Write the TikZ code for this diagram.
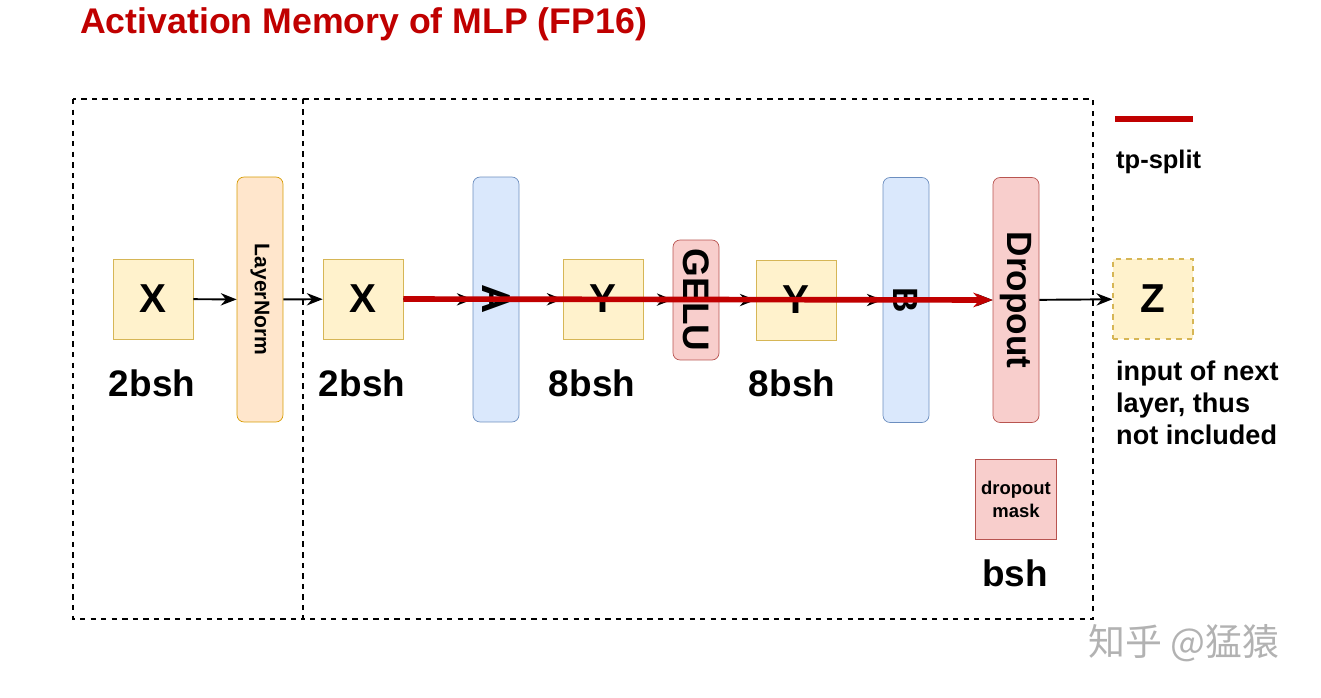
\documentclass[tikz,border=0pt]{standalone}
\usepackage{fontspec}
\setmainfont{Liberation Sans}
\newfontfamily\cjk{Noto Sans CJK SC}
\usetikzlibrary{positioning}
\usetikzlibrary{arrows.meta}
\definecolor{tpred}{HTML}{C00000}
\definecolor{yfill}{HTML}{FFF2CC}
\definecolor{ydraw}{HTML}{D6B656}
\definecolor{ofill}{HTML}{FFE6CC}
\definecolor{odraw}{HTML}{D79B00}
\definecolor{bfill}{HTML}{DAE8FC}
\definecolor{bdraw}{HTML}{6C8EBF}
\definecolor{rfill}{HTML}{F8CECC}
\definecolor{rdraw}{HTML}{B85450}
\tikzset{
    tensor/.style={draw=ydraw, fill=yfill, minimum width=1.6cm, minimum height=1.6cm,
        font=\fontsize{23}{26}\selectfont\bfseries},
    layer/.style={rounded corners=4pt, minimum width=0.92cm, minimum height=4.9cm},
    size/.style={font=\fontsize{21}{24}\selectfont\bfseries},
    flow/.style={-{Stealth[length=9pt, width=7pt]}, line width=1.1pt},
}
\begin{document}
\begin{tikzpicture}[x={(0.02cm,0)}, y={(0,-0.02cm)}]
    \useasboundingbox (0,0) rectangle (1321,697);
    \node[anchor=west, text=tpred, font=\fontsize{20.3}{23}\selectfont\bfseries] (title) at (74,24) {Activation Memory of MLP (FP16)};
    % dashed frames
    \draw[dashed, line width=1.1pt] (73,99) rectangle (303,619);
    \draw[dashed, line width=1.1pt] (303,99) rectangle (1093,619);
    % legend
    \coordinate (lg1) at (1115,119);
    \coordinate (lg2) at (1193,119);
    \draw[tpred, line width=3pt] (lg1) -- (lg2);
    \node[anchor=west, font=\fontsize{14.5}{16}\selectfont\bfseries] (tplabel) at (1110,162) {tp-split};
    % blocks
    \node[tensor] (x1) at (153,299) {X};
    \node[size] at (152,383) {2bsh};
    \node[layer, draw=odraw, fill=ofill] (ln) at (260,299.5) {};
    \node[rotate=-90, font=\fontsize{12}{14}\selectfont\bfseries] at (ln) {LayerNorm};
    \node[tensor] (x2) at (363,299) {X};
    \node[size] at (362,383) {2bsh};
    \node[layer, draw=bdraw, fill=bfill] (a) at (496,299.5) {};
    \node[rotate=-90, font=\fontsize{23}{26}\selectfont\bfseries] at (a) {A};
    \node[tensor] (y1) at (603,299) {Y};
    \node[size] at (592,383) {8bsh};
    \node[layer, draw=rdraw, fill=rfill, minimum height=2.4cm] (gelu) at (696,300) {};
    \node[rotate=-90, font=\fontsize{21}{24}\selectfont\bfseries] at (gelu) {GELU};
    \node[tensor] (y2) at (796,300) {Y};
    \node[size] at (792,383) {8bsh};
    \node[layer, draw=bdraw, fill=bfill] (b) at (906,300) {};
    \node[rotate=-90, font=\fontsize{20}{24}\selectfont\bfseries] at (b) {B};
    \node[layer, draw=rdraw, fill=rfill] (drop) at (1016,300) {};
    \node[rotate=-90, font=\fontsize{20}{24}\selectfont\bfseries] at (drop) {Dropout};
    \node[tensor, dashed, thick] (z) at (1153,299) {Z};
    \node[anchor=north west, align=left, font=\fontsize{15.4}{18}\selectfont\bfseries] (note) at (1110,355) {input of next\\layer, thus\\not included};
    \node[draw=rdraw, fill=rfill, minimum width=1.6cm, minimum height=1.6cm, align=center,
        font=\fontsize{10.5}{13}\selectfont\bfseries] (mask) at (1016,499) {dropout\\mask};
    \node[size] at (1015,573) {bsh};
    % connectors
    \draw[flow] (x1) -- (ln);
    \draw[flow] (ln) -- (x2);
    \draw[flow] (x2) -- (a);
    \draw[flow] (a) -- (y1);
    \draw[flow] (y1) -- (gelu);
    \draw[flow] (gelu) -- (y2);
    \draw[flow] (y2) -- (b);
    \draw[flow] (b) -- (drop);
    \draw[flow] (drop) -- (z);
    % tp split
    \draw[tpred, line width=3.2pt, -{Stealth[length=11pt]}] (x2.east) -- (drop.west);
    % watermark
    \node[text=gray!60, font=\cjk\fontsize{21}{24}\selectfont] (wm) at (1184,643) {知乎 @猛猿};
\end{tikzpicture}
\end{document}
